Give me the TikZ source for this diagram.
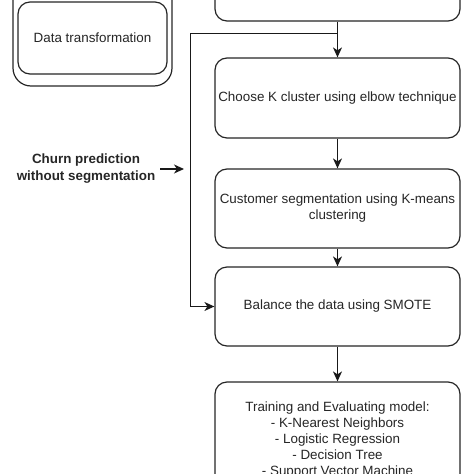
\documentclass[tikz,border=0pt]{standalone}
\usepackage{fontspec}
\setmainfont{Liberation Sans}
\usetikzlibrary{arrows.meta}
\begin{document}
\begin{tikzpicture}[x=1pt,y=-1pt,
  box/.style={draw=black!85,line width=1.2pt,rounded corners=12pt,fill=white,
    minimum width=245pt,align=center,inner sep=2pt,
    font=\fontsize{13.4}{16}\selectfont,text=black!85},
  conn/.style={draw=black!90,line width=1.2pt,-{Stealth[length=10pt,width=9pt,inset=3pt]}},
  lbl/.style={font=\bfseries\fontsize{13.4}{17}\selectfont,align=center,text=black!85,inner sep=2pt}]
\useasboundingbox (0,0) rectangle (474,474);
\clip (0,0) rectangle (474,474);
% top-left group
\node[draw=black!85,line width=1.2pt,rounded corners=18pt,minimum width=159pt,minimum height=186pt,inner sep=0pt] (grp) at (92.5,-7) {};
\node[box,minimum width=149pt,minimum height=72pt] (dt) at (92.5,38) {Data transformation};
% main column
\node[box,minimum height=61pt] (top) at (337.5,-9.5) {};
\node[box,minimum height=80pt] (choose) at (337.5,98) {Choose K cluster using elbow technique};
\node[box,minimum height=79pt] (cust) at (337.5,208.5) {Customer segmentation using K-means\\clustering};
\node[box,minimum height=79pt] (bal) at (337.5,306.5) {Balance the data using SMOTE};
\node[box,minimum height=116pt] (train) at (337.5,440) {Training and Evaluating model:\\- K-Nearest Neighbors\\- Logistic Regression\\- Decision Tree\\- Support Vector Machine};
\coordinate (split) at (337.5,33.5);
\coordinate (lc1) at (190.5,33.5);
\coordinate (lc2) at (190.5,306.5);
\draw[conn] (top.south) -- (choose.north);
\draw[conn] (choose.south) -- (cust.north);
\draw[conn] (cust.south) -- (bal.north);
\draw[conn] (bal.south) -- (train.north);
\draw[conn] (split) -- (lc1) -- (lc2) -- (bal.west);
% side label
\node[lbl] (churn) at (86,168.5) {Churn prediction\\without segmentation};
\coordinate (ctip) at (184,169);
\draw[conn] (churn.east |- ctip) ++(3,0) -- (ctip);
\end{tikzpicture}
\end{document}
